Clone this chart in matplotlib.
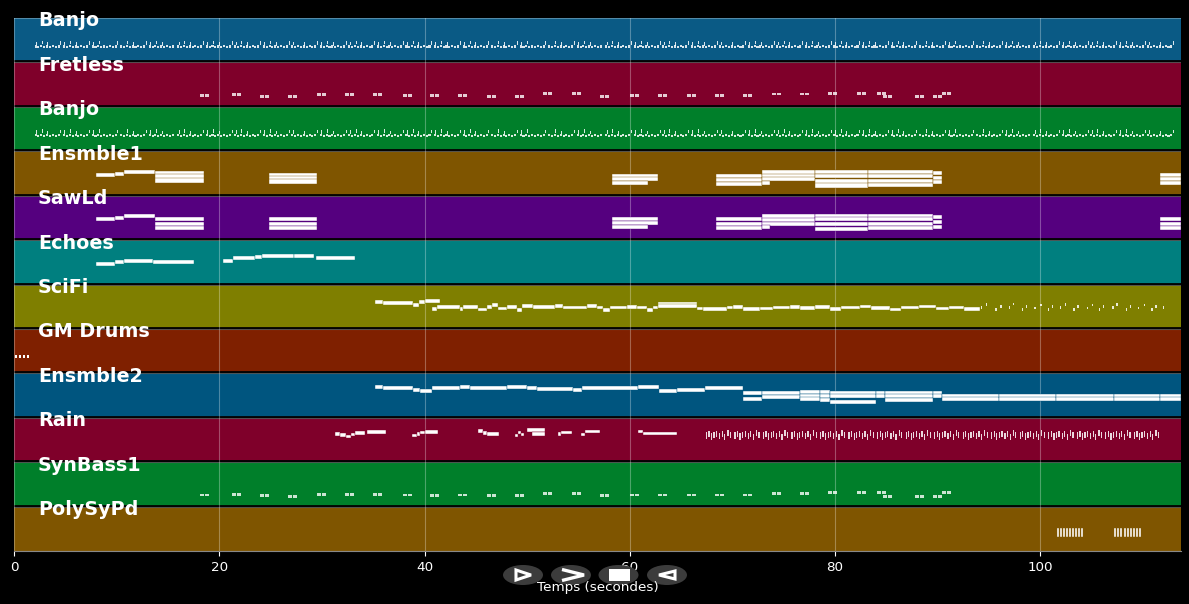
import matplotlib
matplotlib.use("Agg")
import matplotlib.pyplot as plt
from matplotlib.patches import Ellipse, Polygon, Rectangle

# --------------------------------------------------------------------------- #
# Data (times in seconds, level = position inside the track band, 0=top)      #
# --------------------------------------------------------------------------- #
track_names = ["Banjo", "Fretless", "Banjo", "Ensmble1", "SawLd", "Echoes",
               "SciFi", "GM Drums", "Ensmble2", "Rain", "SynBass1", "PolySyPd"]
track_colors = ["#0a5a85", "#7f002a", "#007f2a", "#7f5500", "#55007f", "#007f7f",
                "#7f7f00", "#7f2000", "#00557f", "#7f002a", "#007f2a", "#7f5500"]
t_max = 113.7
x_ticks = [0, 20, 40, 60, 80, 100]

# banjo roll: one two-bar figure, repeated at these starts
banjo_group_starts = [2.0, 7.56, 13.12, 18.68, 24.24, 29.8, 35.36, 40.92, 46.48, 52.04,
                      57.6, 63.16, 68.72, 74.28, 79.84, 85.4, 90.96, 96.52, 102.08, 107.64]
banjo_low_offsets = [0.0, 0.28, 0.56, 0.84, 1.12, 1.40, 1.68, 1.96, 2.24,
                     2.78, 3.06, 3.34, 3.62, 3.90, 4.18, 4.46, 4.74, 5.02]
banjo_low_levels = [0.64, 0.66, 0.63, 0.65, 0.64, 0.66, 0.63, 0.65, 0.64,
                    0.64, 0.66, 0.63, 0.65, 0.64, 0.66, 0.63, 0.65, 0.64]
banjo_high_offsets = [0.14, 0.70, 1.26, 2.52, 2.92, 3.48, 4.04, 5.30]
banjo_high_levels = [0.57, 0.55, 0.58, 0.56, 0.57, 0.55, 0.58, 0.56]

# fretless / synbass: short note pairs
bass_pair_starts = [18.12, 21.24, 23.97, 26.70, 29.52, 32.25, 34.98, 37.90, 40.54, 43.26,
                    46.09, 48.82, 51.55, 54.37, 57.10, 60.02, 62.75, 65.58, 68.31, 71.04,
                    73.86, 76.59, 79.32, 82.14, 84.09, 84.68, 87.80, 89.55, 90.43]
bass_pair_levels = [0.74, 0.73, 0.76, 0.77, 0.73, 0.73, 0.73, 0.74, 0.75, 0.74,
                    0.76, 0.76, 0.70, 0.70, 0.76, 0.74, 0.74, 0.74, 0.74, 0.74,
                    0.71, 0.71, 0.69, 0.69, 0.69, 0.77, 0.77, 0.77, 0.69]

ensmble1_notes = [
    (7.99, 9.84, 0.53), (9.84, 10.72, 0.51), (10.72, 13.74, 0.47),
    (13.74, 18.51, 0.50), (13.74, 18.51, 0.57), (13.74, 18.51, 0.66),
    (24.85, 29.52, 0.53), (24.85, 29.52, 0.61), (24.85, 29.52, 0.68),
    (58.27, 62.75, 0.55), (58.27, 62.75, 0.62), (58.27, 61.78, 0.71),
    (68.40, 72.90, 0.56), (68.40, 72.90, 0.65), (68.40, 72.90, 0.74),
    (72.90, 78.05, 0.48), (72.90, 78.05, 0.56), (72.90, 78.05, 0.63), (72.90, 73.67, 0.72),
    (78.05, 83.22, 0.47), (78.05, 83.22, 0.56), (78.05, 83.22, 0.68), (78.05, 83.22, 0.77),
    (83.22, 89.55, 0.47), (83.22, 89.55, 0.56), (83.22, 89.55, 0.67), (83.22, 89.55, 0.76),
    (89.55, 90.43, 0.49), (89.55, 90.43, 0.60), (89.55, 90.43, 0.70),
    (111.67, 113.70, 0.53), (111.67, 113.70, 0.62), (111.67, 113.70, 0.72),
]
sawld_notes = [
    (7.99, 9.84, 0.52), (9.84, 10.72, 0.50), (10.72, 13.74, 0.46),
    (13.74, 18.51, 0.53), (13.74, 18.51, 0.63), (13.74, 18.51, 0.73),
    (24.85, 29.52, 0.53), (24.85, 29.52, 0.63), (24.85, 29.52, 0.73),
    (58.27, 62.75, 0.53), (58.27, 62.75, 0.61), (58.27, 61.78, 0.70),
    (68.40, 72.90, 0.53), (68.40, 72.90, 0.63), (68.40, 72.90, 0.73),
    (72.90, 78.05, 0.47), (72.90, 78.05, 0.55), (72.90, 78.05, 0.63), (72.90, 73.67, 0.70),
    (78.05, 83.22, 0.45), (78.05, 83.22, 0.53), (78.05, 83.22, 0.63), (78.05, 83.22, 0.75),
    (83.22, 89.55, 0.45), (83.22, 89.55, 0.53), (83.22, 89.55, 0.64), (83.22, 89.55, 0.72),
    (89.55, 90.43, 0.48), (89.55, 90.43, 0.60), (89.55, 90.43, 0.70),
    (111.67, 113.70, 0.53), (111.67, 113.70, 0.63), (111.67, 113.70, 0.73),
]
echoes_notes = [
    (7.99, 9.84, 0.54), (9.84, 10.72, 0.49), (10.72, 13.5, 0.47), (13.5, 17.5, 0.50),
    (20.4, 21.3, 0.46), (21.3, 23.5, 0.41), (23.5, 24.2, 0.38), (24.2, 27.3, 0.36),
    (27.3, 29.2, 0.36), (29.4, 33.2, 0.41),
]
scifi_notes = [
    (35.2, 36.0, 0.39), (36.0, 38.9, 0.42), (38.9, 39.5, 0.46), (39.5, 40.0, 0.40),
    (40.0, 41.5, 0.37), (40.7, 41.2, 0.55), (41.2, 43.46, 0.51),
    (43.46, 43.78, 0.55), (43.78, 45.24, 0.51), (45.24, 46.06, 0.56), (46.06, 46.55, 0.51),
    (46.55, 47.2, 0.46), (47.2, 48.0, 0.54), (48.0, 48.98, 0.51), (48.98, 49.47, 0.57),
    (49.47, 50.6, 0.48), (50.6, 52.72, 0.51), (52.72, 53.53, 0.48), (53.53, 55.8, 0.52),
    (55.8, 56.78, 0.48), (56.78, 57.42, 0.52), (57.42, 58.07, 0.57), (58.07, 59.7, 0.52),
    (59.7, 60.68, 0.51), (60.68, 61.65, 0.52), (61.65, 62.3, 0.57), (62.3, 62.78, 0.52),
    (62.78, 66.52, 0.43), (62.78, 66.52, 0.48), (66.52, 67.17, 0.54), (67.17, 69.45, 0.55),
    (69.45, 70.1, 0.52), (70.1, 71.07, 0.51), (71.07, 72.7, 0.55), (72.7, 73.99, 0.54),
    (73.99, 75.61, 0.52), (75.61, 76.59, 0.51), (76.59, 78.0, 0.53), (78.0, 79.5, 0.51),
    (79.5, 80.6, 0.55), (80.6, 82.4, 0.52), (82.4, 83.5, 0.50), (83.5, 85.3, 0.53),
    (85.3, 86.4, 0.56), (86.4, 88.2, 0.52), (88.2, 89.8, 0.50), (89.8, 91.1, 0.54),
    (91.1, 92.6, 0.52), (92.6, 94.1, 0.55),
]
scifi_tick_starts = [94.2, 94.7, 95.6, 96.1, 96.9, 97.3, 98.2, 98.6, 99.4, 100.0,
                     100.7, 101.1, 101.9, 102.4, 103.2, 103.6, 104.5, 105.0, 105.7, 106.1,
                     107.0, 107.4, 108.3, 108.7, 109.5, 110.1, 110.8, 111.2, 111.9]
scifi_tick_levels = [0.52, 0.45, 0.56, 0.49, 0.52, 0.44, 0.57, 0.50, 0.53, 0.46,
                     0.56, 0.49, 0.52, 0.45, 0.57, 0.50, 0.53, 0.46, 0.56, 0.49,
                     0.52, 0.45, 0.57, 0.50, 0.53, 0.46, 0.56, 0.49, 0.52]
drums_notes = [(0.1, 0.3, 0.63), (0.5, 0.7, 0.63), (0.9, 1.1, 0.63), (1.3, 1.5, 0.63)]
ensmble2_notes = [
    (35.2, 36.0, 0.31), (36.0, 38.9, 0.34), (38.9, 39.6, 0.37), (39.6, 40.7, 0.39),
    (40.7, 43.5, 0.34), (43.5, 44.4, 0.31), (44.4, 48.0, 0.34), (48.0, 50.0, 0.31),
    (50.0, 51.0, 0.34), (51.0, 54.5, 0.35), (54.5, 55.3, 0.37), (55.3, 60.8, 0.34),
    (60.8, 62.8, 0.31), (62.8, 64.6, 0.40), (64.6, 67.3, 0.37), (67.3, 71.0, 0.32),
    (71.0, 72.9, 0.45), (71.0, 72.9, 0.58),
    (72.9, 76.6, 0.45), (72.9, 76.6, 0.53),
    (76.6, 78.5, 0.43), (76.6, 78.5, 0.50), (76.6, 78.5, 0.57),
    (78.5, 79.5, 0.42), (78.5, 79.5, 0.52), (78.5, 79.5, 0.61),
    (79.5, 84.0, 0.44), (79.5, 84.0, 0.51), (79.5, 84.0, 0.64),
    (84.0, 84.9, 0.44), (84.0, 84.9, 0.52),
    (84.9, 89.55, 0.44), (84.9, 89.55, 0.51), (84.9, 89.55, 0.59),
    (89.55, 90.43, 0.44), (89.55, 90.43, 0.51),
    (90.43, 96.0, 0.51), (90.43, 96.0, 0.58), (96.0, 101.5, 0.51), (96.0, 101.5, 0.58),
    (101.5, 107.2, 0.51), (101.5, 107.2, 0.58), (107.2, 111.7, 0.51), (107.2, 111.7, 0.58),
    (111.7, 113.7, 0.51), (111.7, 113.7, 0.58),
]
rain_notes = [
    (31.3, 31.8, 0.37), (31.8, 32.3, 0.39), (32.3, 32.8, 0.42), (32.8, 33.2, 0.38),
    (33.2, 34.2, 0.34), (34.4, 36.2, 0.32),
    (38.8, 39.3, 0.40), (39.3, 39.6, 0.37), (39.6, 40.0, 0.33), (40.0, 41.3, 0.32),
    (45.2, 45.7, 0.30), (45.7, 46.1, 0.34), (46.1, 47.3, 0.37),
    (48.8, 49.1, 0.40), (49.1, 49.4, 0.33), (49.4, 49.7, 0.38),
    (50.0, 51.7, 0.28), (50.5, 51.7, 0.36),
    (53.0, 53.3, 0.37), (53.3, 54.4, 0.33),
    (55.2, 55.6, 0.38), (55.6, 57.1, 0.31),
    (60.8, 61.3, 0.31), (61.3, 64.6, 0.35),
]
# dense rain figure, one bar, repeated at these bar starts
rain_bar_starts = [67.4, 70.18, 72.96, 75.74, 78.52, 81.3, 84.08, 86.86, 89.64,
                   92.42, 95.2, 97.98, 100.76, 103.54, 106.32, 109.1]
rain_bar_offsets = [0.0, 0.25, 0.5, 0.75, 1.0, 1.3, 1.55, 1.8, 2.1, 2.35]
rain_bar_levels = [0.40, 0.36, 0.42, 0.38, 0.36, 0.41, 0.37, 0.43, 0.35, 0.39]
poly_ticks = [101.6, 101.9, 102.2, 102.5, 102.8, 103.1, 103.4, 103.7, 104.0,
              107.2, 107.5, 107.8, 108.1, 108.4, 108.7, 109.0, 109.3, 109.6]

W, H = 1189, 604


def px(x, y):
    return x / W, 1 - y / H


def draw_notes(ax, row, notes, height, alpha=1.0, edge=None, lw=0.3):
    starts = [n[0] for n in notes]
    widths = [n[1] - n[0] for n in notes]
    ys = [row + n[2] for n in notes]
    ax.barh(ys, widths, left=starts, height=height, color="white", alpha=alpha,
            edgecolor=edge if edge else "none", linewidth=lw if edge else 0, zorder=3)


fig = plt.figure(figsize=(W / 100, H / 100), dpi=100, facecolor="black")
ax = fig.add_axes([14 / W, 1 - 551 / H, (1181 - 14) / W, (551 - 18) / H])
ax.set_facecolor("black")

n_tracks = len(track_names)
ax.barh([i + 0.5 for i in range(n_tracks)], [t_max] * n_tracks, left=0, height=1.0,
        color=track_colors, zorder=1)
for i in range(1, n_tracks):
    ax.axhline(i - 0.022, color="black", lw=2.0, zorder=1.2)

# banjo tracks
for row in (0, 2):
    low, high = [], []
    for g in banjo_group_starts:
        low += [(g + o, g + o + 0.2, l) for o, l in zip(banjo_low_offsets, banjo_low_levels)]
        high += [(g + o, g + o + 0.09, l) for o, l in zip(banjo_high_offsets, banjo_high_levels)]
    draw_notes(ax, row, low, 0.05, alpha=0.85)
    draw_notes(ax, row, high, 0.08, alpha=0.85)

# fretless / synbass pairs
for row in (1, 10):
    pairs = []
    for s, l in zip(bass_pair_starts, bass_pair_levels):
        pairs += [(s, s + 0.4, l), (s + 0.5, s + 0.9, l)]
    draw_notes(ax, row, pairs, 0.065, alpha=0.8)

draw_notes(ax, 3, ensmble1_notes, 0.095, edge=track_colors[3])
draw_notes(ax, 4, sawld_notes, 0.095, edge=track_colors[4])
draw_notes(ax, 5, echoes_notes, 0.09, edge=track_colors[5])
draw_notes(ax, 6, scifi_notes, 0.08, edge=track_colors[6])
draw_notes(ax, 6, [(s, s + 0.14, l) for s, l in zip(scifi_tick_starts, scifi_tick_levels)],
           0.06, alpha=0.85)
draw_notes(ax, 7, drums_notes, 0.07)
draw_notes(ax, 8, ensmble2_notes, 0.09, edge=track_colors[8])
draw_notes(ax, 9, rain_notes, 0.08, edge=track_colors[9])
rain_dense = []
for b in rain_bar_starts:
    rain_dense += [(b + o, b + o + 0.12, l) for o, l in zip(rain_bar_offsets, rain_bar_levels)]
draw_notes(ax, 9, rain_dense, 0.14, alpha=0.85)
draw_notes(ax, 11, [(t, t + 0.2, 0.58) for t in poly_ticks], 0.2, edge=track_colors[11])

for i, name in enumerate(track_names):
    ax.text(2.35, i + 0.19, name, color="white", fontsize=13.8, fontweight="bold",
            va="baseline", ha="left", zorder=5, clip_on=False)

ax.set_xlim(0, t_max)
ax.set_ylim(n_tracks, 0)
ax.set_xticks(x_ticks)
ax.set_yticks(range(n_tracks + 1))
ax.set_yticklabels([])
ax.tick_params(axis="y", length=0)
ax.tick_params(axis="x", colors="white", labelsize=9.7, length=3.5, width=0.8)
ax.set_axisbelow("line")
ax.grid(True, color="white", alpha=0.3, lw=0.8)
for side in ("top", "left", "right"):
    ax.spines[side].set_visible(False)
ax.spines["bottom"].set_color("#888888")

# player controls under the axis
for cx in (523, 571, 618.5, 667):
    fx, fy = px(cx, 575)
    fig.add_artist(Ellipse((fx, fy), 40 / W, 20 / H, transform=fig.transFigure,
                           facecolor="#3c3c3c", edgecolor="none", zorder=2))
fig.add_artist(Polygon([px(516, 570), px(516, 580), px(531, 575)], closed=True, fill=False,
                       edgecolor="white", lw=2.2, transform=fig.transFigure, zorder=3))
fig.add_artist(Polygon([px(562, 569.5), px(584, 575), px(562, 580.5)], closed=False, fill=False,
                       edgecolor="white", lw=2.4, transform=fig.transFigure, zorder=3))
fig.add_artist(Rectangle(px(609, 581), 21 / W, 12 / H, facecolor="white",
                         transform=fig.transFigure, zorder=3))
fig.add_artist(Polygon([px(675, 571), px(675, 579), px(659, 575)], closed=True, fill=False,
                       edgecolor="white", lw=2.2, transform=fig.transFigure, zorder=3))
fig.text(597.5 / W, 1 - 587 / H, "Temps (secondes)", color="white", fontsize=9.7,
         ha="center", va="center", zorder=5)

fig.savefig("out.png", dpi=100, facecolor="black")
